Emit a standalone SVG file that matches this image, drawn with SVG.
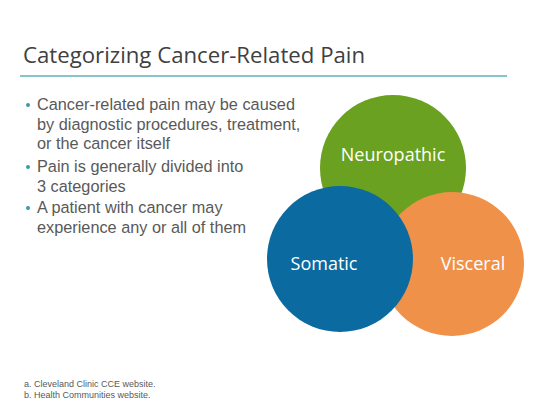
<svg xmlns="http://www.w3.org/2000/svg" width="540" height="405" viewBox="0 0 540 405">
<style>
.t{font-family:"Open Sans","Liberation Sans",sans-serif;fill:#404040}
.b{font-family:"Liberation Sans",Arial,sans-serif;fill:#595959;font-size:16.3px}
.dot{fill:#3a9aa8}
.lbl{font-family:"Open Sans","Liberation Sans",sans-serif;fill:#ffffff;font-size:18px;text-anchor:middle}
.fn{font-family:"Liberation Sans",Arial,sans-serif;fill:#595959;font-size:9px}
</style>
<rect width="540" height="405" fill="#ffffff"/>
<text class="t" x="23" y="63" font-size="22.2">Categorizing Cancer-Related Pain</text>
<line x1="20" y1="76" x2="507" y2="76" stroke="#5fb0bd" stroke-width="1.5"/>
<g id="bullets">
<circle class="dot" cx="28" cy="105" r="2"/>
<text class="b" x="37" y="110">Cancer-related pain may be caused</text>
<text class="b" x="37" y="129.5">by diagnostic procedures, treatment,</text>
<text class="b" x="37" y="149">or the cancer itself</text>
<circle class="dot" cx="28" cy="167" r="2"/>
<text class="b" x="37" y="172">Pain is generally divided into</text>
<text class="b" x="37" y="191.5">3 categories</text>
<circle class="dot" cx="28" cy="208" r="2"/>
<text class="b" x="37" y="213">A patient with cancer may</text>
<text class="b" x="37" y="232.5">experience any or all of them</text>
</g>
<g id="neuropathic">
<circle cx="393" cy="168" r="73" fill="#6aa121"/>
<text class="lbl" x="393" y="161">Neuropathic</text>
</g>
<g id="visceral">
<circle cx="452" cy="264" r="72" fill="#f0914a"/>
<text class="lbl" x="473" y="270">Visceral</text>
</g>
<g id="somatic">
<circle cx="340" cy="259" r="73" fill="#0b6aa0"/>
<text class="lbl" x="324" y="270">Somatic</text>
</g>
<g id="connectors"></g>
<text class="fn" x="24" y="387">a. Cleveland Clinic CCE website.</text>
<text class="fn" x="24" y="398">b. Health Communities website.</text>
</svg>
